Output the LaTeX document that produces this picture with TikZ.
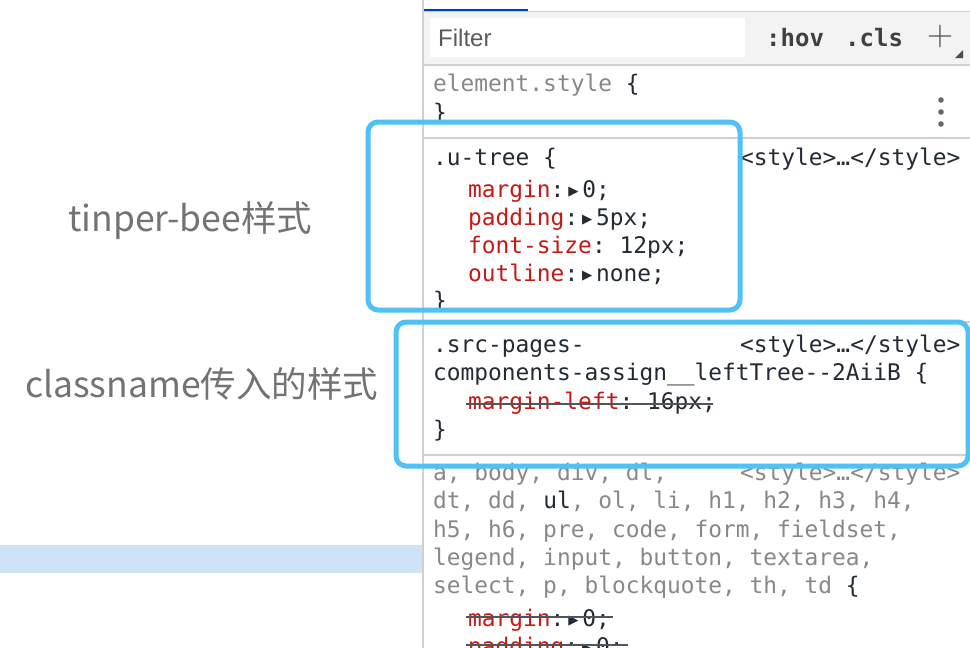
\documentclass[tikz,border=0pt]{standalone}
\usepackage{fontspec}
\setmonofont{DejaVu Sans Mono}
\newfontfamily\cjk{Noto Sans CJK SC}
\definecolor{pg}{HTML}{F3F3F3}
\definecolor{sep}{HTML}{D0D0D0}
\definecolor{hl}{HTML}{4FC1F7}
\definecolor{prop}{HTML}{C41A16}
\definecolor{val}{HTML}{222A33}
\definecolor{inh}{HTML}{888888}
\definecolor{sel}{HTML}{CFE3F7}
\newcommand\tri{\,\raisebox{1pt}{\fontsize{17}{17}\selectfont\char"25B6}\,}
\tikzset{
 code/.style={anchor=base west,inner sep=0pt,font=\ttfamily\fontsize{22.85}{26}\selectfont,text=val},
 lab/.style={anchor=base west,inner sep=0pt,font=\cjk\fontsize{35.5}{38}\selectfont,text=black!55},
 hlbox/.style={draw=hl,line width=5pt,rounded corners=10pt},
 strike/.style={draw=val!80,line width=1.6pt}
}
\begin{document}
\begin{tikzpicture}[x=1pt,y=-1pt]
\useasboundingbox (0,0) rectangle (970,648);
\fill[white] (0,0) rectangle (970,648);
% left
\fill[sel] (0,545) rectangle (422,573);
\node[lab] (l1) at (68,231) {tinper-bee样式};
\node[lab] (l2) at (25,397) {classname传入的样式};
% panel
\fill[pg] (423,12) rectangle (970,65);
\draw[sep,line width=1pt] (423,11) -- (970,11);
\draw[blue!70!cyan!80!black,line width=2.5pt] (423,10) -- (528,10);
\draw[sep,line width=1.5pt] (423,0) -- (423,648);
\fill[white] (430,18) rectangle (745,57);
\node[anchor=base west,inner sep=0pt,font=\fontspec{Liberation Sans}\fontsize{24}{26}\selectfont,text=black!65] (filter) at (438,46) {Filter};
\node[code,font=\ttfamily\bfseries\fontsize{24}{26}\selectfont,text=black!75] (hov) at (766,46) {:hov};
\node[code,font=\ttfamily\bfseries\fontsize{24}{26}\selectfont,text=black!75] (cls) at (845,46) {.cls};
\node[anchor=center,inner sep=0pt,font=\fontsize{36}{36}\selectfont,text=black!70] (plus) at (940,37) {+};
\fill[black!70] (963,50) -- (963,58) -- (955,58) -- cycle;
\draw[sep,line width=1.5pt] (423,65) -- (970,65);
\draw[sep,line width=1.5pt] (423,138) -- (970,138);
\draw[sep,line width=1.5pt] (423,322) -- (970,322);
\draw[sep,line width=1.5pt] (423,455) -- (970,455);
\foreach \yy in {100,112,124} \fill[black!60] (941,\yy) circle (2.8);
% code
\node[code,text=inh] (es) at (433,91) {element.style \textcolor{val}{\char`\{}};
\node[code] (es2) at (433,120) {\char`\}};
\node[code] (ut) at (433,165) {.u-tree {\char`\{}};
\node[code] (src1) at (740,165) {<style>…</style>};
\node[code] (m) at (468,197) {\textcolor{prop}{margin}:\tri0;};
\node[code] (p) at (468,225) {\textcolor{prop}{padding}:\tri5px;};
\node[code] (f) at (468,253) {\textcolor{prop}{font-size}: 12px;};
\node[code] (o) at (468,281) {\textcolor{prop}{outline}:\tri none;};
\node[code] (ut2) at (433,308) {\char`\}};
\node[code] (sp) at (433,352) {.src-pages-};
\node[code] (src2) at (740,352) {<style>…</style>};
\node[code] (sp2) at (433,380) {components-assign\_\_leftTree--2AiiB {\char`\{}};
\node[code] (ml) at (468,409) {\textcolor{prop}{margin-left}: 16px;};
\draw[strike] (466,404) -- (713,404);
\node[code] (sp3) at (433,437) {\char`\}};
\node[code,text=inh] (a1) at (433,480) {a, body, div, dl,};
\node[code,text=inh] (src3) at (740,480) {<style>…</style>};
\node[code,text=inh] (a2) at (433,508) {dt, dd, \textcolor{val}{ul}, ol, li, h1, h2, h3, h4,};
\node[code,text=inh] (a3) at (433,537) {h5, h6, pre, code, form, fieldset,};
\node[code,text=inh] (a4) at (433,565) {legend, input, button, textarea,};
\node[code,text=inh] (a5) at (433,593) {select, p, blockquote, th, td \textcolor{val}{\char`\{}};
\node[code] (a6) at (468,626) {\textcolor{prop}{margin}:\tri0;};
\draw[strike] (466,617) -- (613,617);
\node[code] (a7) at (468,654) {\textcolor{prop}{padding}:\tri0;};
\draw[strike] (466,645) -- (628,645);
% highlight boxes
\draw[hlbox] (368,122) rectangle (740,310);
\draw[hlbox] (396,322) rectangle (968,466);
\end{tikzpicture}
\end{document}
